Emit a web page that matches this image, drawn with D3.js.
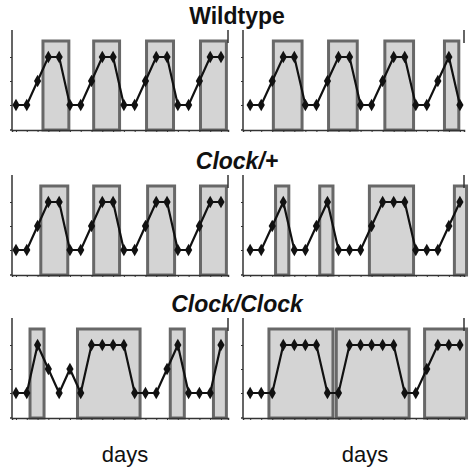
<!DOCTYPE html>
<html><head><meta charset="utf-8">
<script src="https://cdn.jsdelivr.net/npm/d3@7"></script>
<style>body{margin:0;background:#fff}</style></head>
<body><svg id="c" width="474" height="474"></svg>
<script>
const titles = ["Wildtype", "Clock/+", "Clock/Clock"];
const titleItalic = [false, true, true];
// levels: 0 low, 1 mid, 2 high ; one array per panel (row, col)
const wtLeft  = [0,0,1,2,2,0,0,1,2,2,0,0,1,2,2,0,0,1,2,2];
const wtRight = [0,0,1,2,2,0,0,1,2,2,0,0,1,2,2,0,0,1,2,0];
const cpLeft  = [0,0,1,2,2,0,0,1,2,2,0,0,1,2,2,0,0,1,2,2];
const cpRight = [0,0,1,2,0,0,1,2,0,0,0,1,2,2,2,0,0,0,1,2];
const ccLeft  = [0,0,2,1,0,1,0,2,2,2,2,0,0,0,1,2,0,0,0,2];
const ccRight = [0,0,0,2,2,2,2,0,0,2,2,2,2,2,0,0,1,2,2,2];
// shaded periods in point-index units
const wtLeftBoxes  = [[2.5,4.9],[7.2,9.6],[12.1,14.6],[17.1,19.5]];
const wtRightBoxes = [[2.1,4.7],[7.1,9.7],[12.2,14.8],[17.6,18.9]];
const cpLeftBoxes  = [[2.3,4.8],[7.2,9.6],[12.2,14.7],[17.1,19.5]];
const cpRightBoxes = [[2.3,3.5],[6.3,7.5],[10.8,14.8],[18.5,19.6]];
const ccLeftBoxes  = [[1.3,2.6],[5.7,11.5],[14.3,15.6],[18.3,19.5]];
const ccRightBoxes = [[1.7,7.5],[7.8,14.4],[15.8,19.6]];
const xLabel = "days";

const panels = [
  [[wtLeft,wtLeftBoxes],[wtRight,wtRightBoxes]],
  [[cpLeft,cpLeftBoxes],[cpRight,cpRightBoxes]],
  [[ccLeft,ccLeftBoxes],[ccRight,ccRightBoxes]]
];
const svg = d3.select("#c");
const rowTops = [35,180,323];
const colRanges = [[12,228],[243,464]];
const colOffset = [-0.37,-0.65];
rowTops.forEach((T,r)=>{
  svg.append("text").attr("x",237).attr("y",T-11).attr("text-anchor","middle")
    .attr("font-family","Liberation Sans, Arial").attr("font-weight","bold")
    .attr("font-style",titleItalic[r]?"italic":"normal").attr("font-size",23).attr("fill","#111").text(titles[r]);
  panels[r].forEach(([vals,boxes],c)=>{
    const x = d3.scaleLinear().domain([colOffset[c],colOffset[c]+20.02]).range(colRanges[c]);
    const y = d3.scaleLinear().domain([0,2]).range([T+70,T+22]);
    const bottom = T+95, top = T+6;
    const g = svg.append("g");
    g.selectAll("rect.b").data(boxes).join("rect")
      .attr("x",d=>x(d[0])).attr("width",d=>x(d[1])-x(d[0]))
      .attr("y",top).attr("height",bottom-top)
      .attr("fill","#d4d4d4").attr("stroke","#686868").attr("stroke-width",3);
    const xa = g.append("g").attr("transform",`translate(0,${bottom})`)
      .call(d3.axisBottom(x).tickValues(d3.range(0,20)).tickSize(2).tickFormat(""));
    xa.select(".domain").attr("stroke","#333").attr("stroke-width",1.5);
    xa.selectAll(".tick line").attr("stroke","#333");
    const ya = g.append("g").attr("transform",`translate(${colRanges[c][0]},0)`)
      .call(d3.axisLeft(d3.scaleLinear().domain([0,2]).range([T+70,T+22])).ticks(2).tickSize(2).tickFormat(""));
    ya.select(".domain").attr("d",`M-2,${bottom}H0V${T-5}`).attr("stroke","#333").attr("stroke-width",1.5);
    ya.selectAll(".tick line").attr("stroke","#333");
    g.append("line").attr("x1",colRanges[c][1]).attr("x2",colRanges[c][1]).attr("y1",T-5).attr("y2",top+2)
      .attr("stroke","#333").attr("stroke-width",1.5);
    g.append("path").datum(vals).attr("fill","none").attr("stroke","#111").attr("stroke-width",2.2)
      .attr("d",d3.line().x((d,i)=>x(i)).y(d=>y(d)));
    g.selectAll("path.m").data(vals).join("path")
      .attr("transform",(d,i)=>`translate(${x(i)},${y(d)})`)
      .attr("d",d3.symbol(d3.symbolDiamond,45)).attr("fill","#111");
  });
});
[125,365].forEach(cx=>svg.append("text").attr("x",cx).attr("y",462).attr("text-anchor","middle")
  .attr("font-family","Liberation Sans, Arial").attr("font-size",22).attr("fill","#111").text(xLabel));
</script></body></html>
